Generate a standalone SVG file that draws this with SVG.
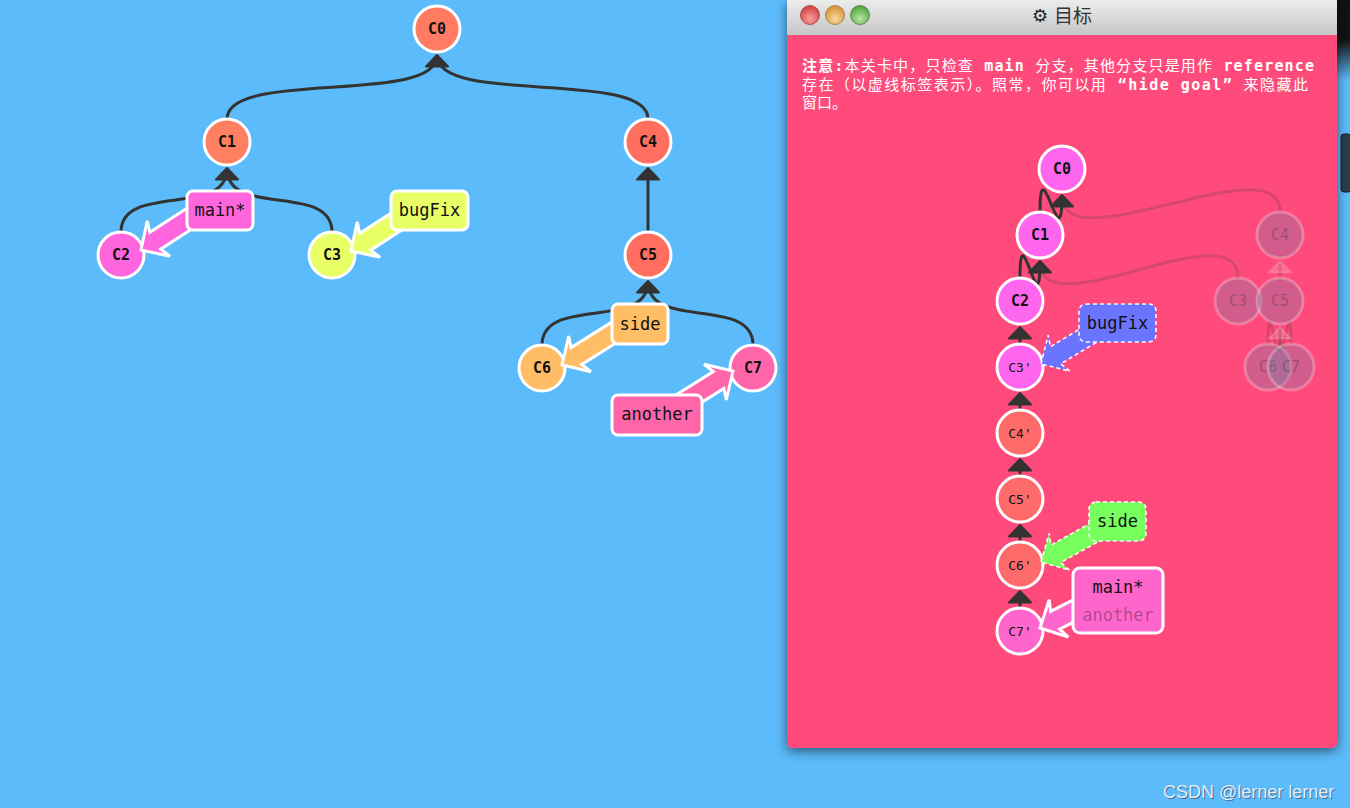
<svg xmlns="http://www.w3.org/2000/svg" xmlns:xlink="http://www.w3.org/1999/xlink" width="1350" height="808" viewBox="0 0 1350 808">
<defs>
<style>
.n{stroke:#fff;stroke-width:3}
.nt{font-family:"DejaVu Sans Mono","Liberation Mono",monospace;font-weight:bold;font-size:15px;text-anchor:middle;fill:#111}
.ntp{font-family:"DejaVu Sans Mono","Liberation Mono",monospace;font-size:13px;text-anchor:middle;fill:#111}
.e{fill:none;stroke:#333;stroke-width:3}
.ah{fill:#333;stroke:#333;stroke-width:2;stroke-linejoin:round}
.fe{fill:none;stroke:#333;stroke-opacity:0.2;stroke-width:3}
.fah{fill:#fff;fill-opacity:0.18;stroke:#fff;stroke-opacity:0.15;stroke-width:2}
.fn{fill:#6488b0;fill-opacity:0.3;stroke:#fff;stroke-opacity:0.25;stroke-width:3}
.fnt{font-family:"DejaVu Sans Mono","Liberation Mono",monospace;font-size:15px;text-anchor:middle;fill:#333;fill-opacity:0.35}
.ba{stroke:#fff;stroke-width:3;stroke-linejoin:miter}
.bd{stroke:#fff;stroke-width:1.5;stroke-dasharray:4 3}
.lb{stroke:#fff;stroke-width:3}
.lbd{stroke:#fff;stroke-width:1.5;stroke-dasharray:4 3}
.lt{font-family:"DejaVu Sans Mono","Liberation Mono",monospace;font-size:17px;text-anchor:middle;fill:#111}
.note{font-family:"DejaVu Sans Mono","Noto Sans CJK SC",monospace;font-size:15px;fill:#fff}
</style>
<path id="barrow" d="M0,0 L21,-21 L17,-10 L70,-10 L70,10 L17,10 L21,21 Z"/>
<linearGradient id="tb" x1="0" y1="0" x2="0" y2="1">
<stop offset="0" stop-color="#ececec"/><stop offset="1" stop-color="#c6c6c6"/>
</linearGradient>
<radialGradient id="gr" cx="0.5" cy="0.7" r="0.6"><stop offset="0" stop-color="#f7a0a0"/><stop offset="1" stop-color="#d84848"/></radialGradient>
<radialGradient id="go" cx="0.5" cy="0.7" r="0.6"><stop offset="0" stop-color="#f8d8a0"/><stop offset="1" stop-color="#d9983e"/></radialGradient>
<radialGradient id="gg" cx="0.5" cy="0.7" r="0.6"><stop offset="0" stop-color="#b8e8a0"/><stop offset="1" stop-color="#5caa48"/></radialGradient>
<linearGradient id="dk" x1="0" y1="0" x2="0" y2="1"><stop offset="0.5" stop-color="#121212"/><stop offset="1" stop-color="#121212" stop-opacity="0"/></linearGradient>
<filter id="sh" x="-10%" y="-10%" width="120%" height="120%"><feDropShadow dx="0" dy="3" stdDeviation="6" flood-color="#000" flood-opacity="0.55"/></filter>
</defs>

<rect x="0" y="0" width="1350" height="808" fill="#5cbbfa"/>

<!-- LEFT GRAPH: connectors -->
<g id="edges-left">
<path class="e" d="M227,119 C227,69 437,105.5 437,55.5"/>
<path class="e" d="M648,119 C648,69 437,105.5 437,55.5"/>
<path class="e" d="M121,232 C121,182 227,218.5 227,168.5"/>
<path class="e" d="M332,232 C332,182 227,218.5 227,168.5"/>
<path class="e" d="M648,232 L648,168.5"/>
<path class="e" d="M542,345 C542,295 648,331.5 648,281.5"/>
<path class="e" d="M753,345 C753,295 648,331.5 648,281.5"/>
<polygon class="ah" points="437,55 426,66.5 448,66.5"/>
<polygon class="ah" points="227,168 216,179.5 238,179.5"/>
<polygon class="ah" points="648,168 637,179.5 659,179.5"/>
<polygon class="ah" points="648,281 637,292.5 659,292.5"/>
</g>

<g id="C0"><circle class="n" cx="437" cy="29" r="23" fill="#ff7b62"/><text class="nt" x="437" y="34">C0</text></g>
<g id="C1"><circle class="n" cx="227" cy="142" r="23" fill="#ff8060"/><text class="nt" x="227" y="147">C1</text></g>
<g id="C4"><circle class="n" cx="648" cy="142" r="23" fill="#ff6f60"/><text class="nt" x="648" y="147">C4</text></g>
<g id="C2"><circle class="n" cx="121" cy="255" r="23" fill="#ff66dd"/><text class="nt" x="121" y="260">C2</text></g>
<g id="C3"><circle class="n" cx="332" cy="255" r="23" fill="#e9ff66"/><text class="nt" x="332" y="260">C3</text></g>
<g id="C5"><circle class="n" cx="648" cy="255" r="23" fill="#ff6e5f"/><text class="nt" x="648" y="260">C5</text></g>
<g id="C6"><circle class="n" cx="542" cy="368" r="23" fill="#ffbd66"/><text class="nt" x="542" y="373">C6</text></g>
<g id="C7"><circle class="n" cx="753" cy="368" r="23" fill="#ff66aa"/><text class="nt" x="753" y="373">C7</text></g>

<g id="branch-main">
<use href="#barrow" xlink:href="#barrow" class="ba" fill="#ff66dd" transform="translate(141,250) rotate(-33)"/>
<rect class="lb" x="187" y="191" width="66" height="39" rx="6" fill="#ff66dd"/>
<text class="lt" x="220" y="216">main*</text>
</g>
<g id="branch-bugFix">
<use href="#barrow" xlink:href="#barrow" class="ba" fill="#e9ff66" transform="translate(351,251) rotate(-33)"/>
<rect class="lb" x="391" y="191" width="77" height="39" rx="6" fill="#e9ff66"/>
<text class="lt" x="429.5" y="216">bugFix</text>
</g>
<g id="branch-side">
<use href="#barrow" xlink:href="#barrow" class="ba" fill="#ffbd66" transform="translate(562,365) rotate(-32)"/>
<rect class="lb" x="612" y="304" width="56" height="40" rx="6" fill="#ffbd66"/>
<text class="lt" x="640" y="330">side</text>
</g>
<g id="branch-another">
<use href="#barrow" xlink:href="#barrow" class="ba" fill="#ff66aa" transform="translate(733,371) rotate(148)"/>
<rect class="lb" x="612" y="395" width="90" height="40" rx="6" fill="#ff66aa"/>
<text class="lt" x="657" y="420">another</text>
</g>

<!-- right dark strip -->
<rect x="1337" y="0" width="13" height="80" fill="url(#dk)"/>
<rect x="1341" y="134" width="10" height="58" rx="3" fill="#2e3d4c" stroke="#1a1a1a" stroke-width="1"/>

<!-- GOAL WINDOW -->
<g id="goal-window">
<g filter="url(#sh)">
<path d="M787,35 H1337 V742 Q1337,748 1331,748 H793 Q787,748 787,742 Z" fill="#ff4b7c"/>
<rect x="787" y="0" width="550" height="35" fill="url(#tb)"/>
</g>
<circle cx="810" cy="15" r="9.5" fill="url(#gr)" stroke="#9a4040" stroke-width="0.8"/>
<circle cx="835" cy="15" r="9.5" fill="url(#go)" stroke="#9a7040" stroke-width="0.8"/>
<circle cx="860" cy="15" r="9.5" fill="url(#gg)" stroke="#4a7a3a" stroke-width="0.8"/>
<text x="1032" y="22" font-family="DejaVu Sans,sans-serif" font-size="18" font-weight="bold" fill="#222">⚙</text>
<text x="1054" y="23" font-family="Noto Sans CJK SC,sans-serif" font-size="19" fill="#333">目标</text>
<text class="note" x="802" y="71" textLength="512" lengthAdjust="spacing"><tspan font-weight="bold">注意:</tspan>本关卡中，只检查 <tspan font-weight="bold">main</tspan> 分支，其他分支只是用作 <tspan font-weight="bold">reference</tspan></text>
<text class="note" x="802" y="90" textLength="506" lengthAdjust="spacing">存在（以虚线标签表示）。照常，你可以用 <tspan font-weight="bold">“hide goal”</tspan> 来隐藏此</text>
<text class="note" x="802" y="108">窗口。</text>
</g>

<!-- GOAL faded (reference) -->
<g id="edges-goal-faded">
<path class="fe" d="M1280,212 C1280,142 1062,265.5 1062,195.5"/>
<path class="fe" d="M1238,278 C1238,208 1040,331.5 1040,261.5"/>
<path class="fe" d="M1280,278 L1280,261.5"/>
<path class="fe" d="M1268,344 C1268,274 1280,397.5 1280,327.5"/>
<path class="fe" d="M1291,344 C1291,274 1280,397.5 1280,327.5"/>
<polygon class="fah" points="1280,261 1269,272.5 1291,272.5"/>
<polygon class="fah" points="1280,327 1269,338.5 1291,338.5"/>
</g>
<g id="G-C4"><circle class="fn" cx="1280" cy="235" r="23"/><text class="fnt" x="1280" y="240">C4</text></g>
<g id="G-C3"><circle class="fn" cx="1238" cy="301" r="23"/><text class="fnt" x="1238" y="306">C3</text></g>
<g id="G-C5"><circle class="fn" cx="1280" cy="301" r="23"/><text class="fnt" x="1280" y="306">C5</text></g>
<g id="G-C6"><circle class="fn" cx="1268" cy="367" r="23"/><text class="fnt" x="1268" y="372">C6</text></g>
<g id="G-C7"><circle class="fn" cx="1291" cy="367" r="23"/><text class="fnt" x="1291" y="372">C7</text></g>

<g id="edges-goal">
<path class="e" d="M1040,212 C1040,142 1062,265.5 1062,195.5"/>
<path class="e" d="M1020,278 C1020,208 1040,331.5 1040,261.5"/>
<path class="e" d="M1020,344 L1020,327.5"/>
<path class="e" d="M1020,410 L1020,393.5"/>
<path class="e" d="M1020,476 L1020,459.5"/>
<path class="e" d="M1020,542 L1020,525.5"/>
<path class="e" d="M1020,608 L1020,591.5"/>
<polygon class="ah" points="1062,195 1051,206.5 1073,206.5"/>
<polygon class="ah" points="1040,261 1029,272.5 1051,272.5"/>
<polygon class="ah" points="1020,327 1009,338.5 1031,338.5"/>
<polygon class="ah" points="1020,393 1009,404.5 1031,404.5"/>
<polygon class="ah" points="1020,459 1009,470.5 1031,470.5"/>
<polygon class="ah" points="1020,525 1009,536.5 1031,536.5"/>
<polygon class="ah" points="1020,591 1009,602.5 1031,602.5"/>
</g>

<g id="G-C0"><circle class="n" cx="1062" cy="169" r="23" fill="#ff66ee"/><text class="nt" x="1062" y="174">C0</text></g>
<g id="G-C1"><circle class="n" cx="1040" cy="235" r="23" fill="#ff66ee"/><text class="nt" x="1040" y="240">C1</text></g>
<g id="G-C2"><circle class="n" cx="1020" cy="301" r="23" fill="#ff66ee"/><text class="nt" x="1020" y="306">C2</text></g>
<g id="G-C3p"><circle class="n" cx="1020" cy="367" r="23" fill="#ff66ee"/><text class="ntp" x="1020" y="372">C3'</text></g>
<g id="G-C4p"><circle class="n" cx="1020" cy="433" r="23" fill="#ff6b6b"/><text class="ntp" x="1020" y="438">C4'</text></g>
<g id="G-C5p"><circle class="n" cx="1020" cy="499" r="23" fill="#ff6b6b"/><text class="ntp" x="1020" y="504">C5'</text></g>
<g id="G-C6p"><circle class="n" cx="1020" cy="565" r="23" fill="#ff6b6b"/><text class="ntp" x="1020" y="570">C6'</text></g>
<g id="G-C7p"><circle class="n" cx="1020" cy="631" r="23" fill="#ff66cc"/><text class="ntp" x="1020" y="636">C7'</text></g>

<g id="G-branch-bugFix">
<use href="#barrow" xlink:href="#barrow" class="bd" fill="#6b74ff" transform="translate(1041,364) rotate(-31)"/>
<rect class="lbd" x="1079" y="304" width="77" height="38" rx="7" fill="#6b74ff"/>
<text class="lt" x="1117.5" y="329" fill="#333">bugFix</text>
</g>
<g id="G-branch-side">
<use href="#barrow" xlink:href="#barrow" class="bd" fill="#77ff5d" transform="translate(1041,562) rotate(-29)"/>
<rect class="lbd" x="1089" y="502" width="57" height="39" rx="7" fill="#77ff5d"/>
<text class="lt" x="1117.5" y="527" fill="#333">side</text>
</g>
<g id="G-branch-main">
<use href="#barrow" xlink:href="#barrow" class="ba" fill="#ff66cc" transform="translate(1040,628) rotate(-27)"/>
<rect class="lb" x="1073" y="568" width="90" height="65" rx="7" fill="#ff66cc"/>
<text class="lt" x="1118" y="593">main*</text>
<text class="lt" x="1118" y="621" fill="#333" fill-opacity="0.35">another</text>
</g>

<g id="watermark">
<text x="1164" y="799" font-family="Liberation Sans,Arial,sans-serif" font-size="18" fill="#3d6f9a">CSDN @lerner lerner</text>
<text x="1163" y="798" font-family="Liberation Sans,Arial,sans-serif" font-size="18" fill="#e4ecf4">CSDN @lerner lerner</text>
</g>
</svg>
